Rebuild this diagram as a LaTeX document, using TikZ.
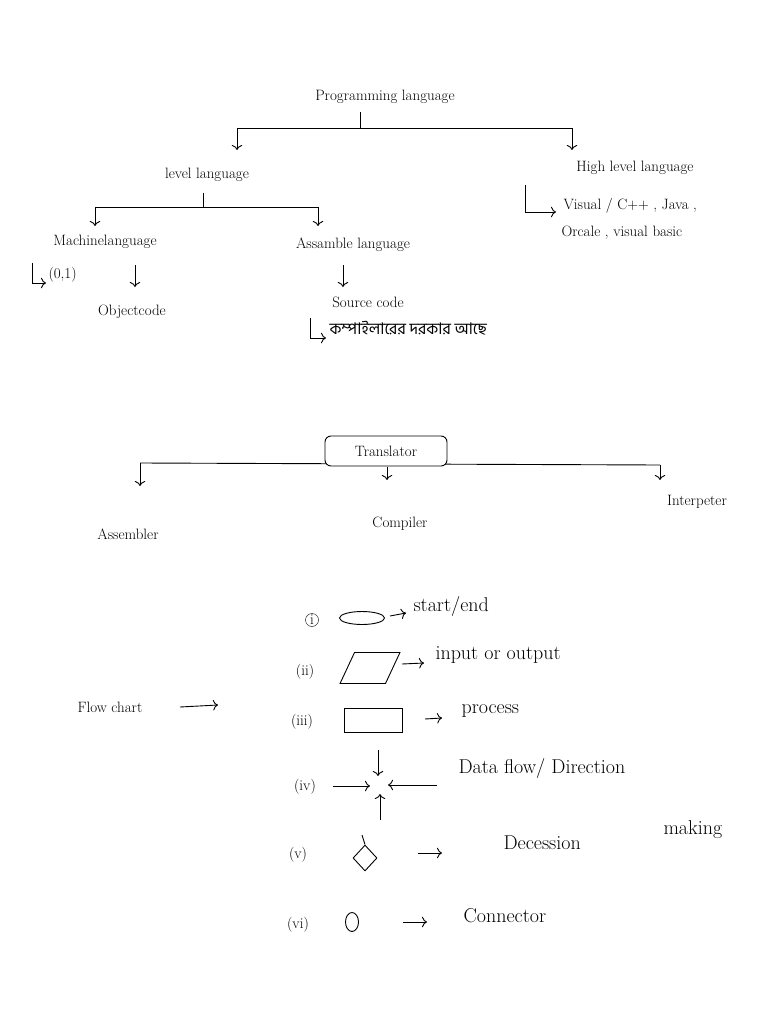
\documentclass[tikz,border=0pt]{standalone}
\usepackage{fontspec}
\newfontfamily\bnfont[Script=Bengali]{Hind Siliguri}
\usetikzlibrary{shapes.geometric,arrows.meta}
\begin{document}
\begin{tikzpicture}[x=1pt,y=-1pt,
  ln/.style={line width=0.9pt},
  ar/.style={line width=0.9pt,-{To[length=5pt]}},
  lbl/.style={font=\fontsize{15}{17}\selectfont},
  big/.style={font=\fontsize{20}{22}\selectfont}]
\useasboundingbox (0,0) rectangle (768,1024);
% tree 1
\node[lbl] (pl) at (385,97) {Programming language};
\coordinate (p1) at (360,112); \coordinate (p2) at (360,128);
\coordinate (pL) at (237,128); \coordinate (pR) at (572,128);
\coordinate (pLd) at (237,150); \coordinate (pRd) at (572,150);
\draw[ln] (p1)--(p2); \draw[ln] (pL)--(pR);
\draw[ar] (pL)--(pLd); \draw[ar] (pR)--(pRd);
\node[lbl] (ll) at (207,175) {level language};
\node[lbl] (hl) at (635,168) {High level language};
\coordinate (h1) at (525,185); \coordinate (h2) at (525,212); \coordinate (h3) at (556,212);
\draw[ar] (h1)--(h2)--(h3);
\node[lbl,anchor=west] (v1) at (560,206) {Visual / C++ , Java ,};
\node[lbl,anchor=west] (v2) at (558,233) {Orcale , visual basic};
\coordinate (l1) at (203,193); \coordinate (l2) at (203,207);
\coordinate (lL) at (95,207); \coordinate (lR) at (318,207);
\coordinate (lLd) at (95,226); \coordinate (lRd) at (318,226);
\draw[ln] (l1)--(l2); \draw[ln] (lL)--(lR);
\draw[ar] (lL)--(lLd); \draw[ar] (lR)--(lRd);
\node[lbl] (ml) at (105,242) {Machinelanguage};
\node[lbl] (al) at (353,245) {Assamble language};
\coordinate (m1) at (32,263); \coordinate (m2) at (32,283); \coordinate (m3) at (46,283);
\draw[ar] (m1)--(m2)--(m3);
\node[lbl,anchor=west] (zo) at (45,275) {(0,1)};
\coordinate (m4) at (135,265); \coordinate (m5) at (135,287);
\draw[ar] (m4)--(m5);
\node[lbl] (oc) at (132,312) {Objectcode};
\coordinate (a4) at (343,265); \coordinate (a5) at (343,287);
\draw[ar] (a4)--(a5);
\node[lbl] (sc) at (368,302) {Source code};
\coordinate (s1) at (310,318); \coordinate (s2) at (310,338); \coordinate (s3) at (326,338);
\draw[ar] (s1)--(s2)--(s3);
\node[font=\bnfont\fontsize{16}{18}\selectfont,anchor=west] (bn) at (326,328) {কম্পাইলারের দরকার আছে};
% translator
\coordinate (tL) at (140,463); \coordinate (tR) at (660,465);
\coordinate (tLd) at (140,486); \coordinate (tRd) at (660,480);
\coordinate (tM) at (387,467); \coordinate (tMd) at (387,480);
\draw[ln] (tL)--(tR);
\node[lbl,draw,fill=white,rounded corners=6pt,line width=0.9pt,minimum width=122pt,minimum height=30pt] (tr) at (386,451) {Translator};
\draw[ar] (tL)--(tLd); \draw[ar] (tR)--(tRd); \draw[ar] (tM)--(tMd);
\node[lbl] (as) at (128,534) {Assembler};
\node[lbl] (co) at (400,524) {Compiler};
\node[lbl] (in) at (697,502) {Interpeter};
% flow chart
\node[lbl] (fc) at (110,707) {Flow chart};
\coordinate (f1) at (180,707); \coordinate (f2) at (218,705);
\draw[ar] (f1)--(f2);
\node[lbl,draw,circle,inner sep=1pt] (r1) at (312,620) {i};
\node[draw,ellipse,line width=0.9pt,minimum width=45pt,minimum height=13pt] (e1) at (362,618) {};
\coordinate (q1) at (390,616); \coordinate (q2) at (406,613);
\draw[ar] (q1)--(q2);
\node[big,anchor=west] (t1) at (410,606) {start/end};
\node[lbl] (r2) at (305,672) {(ii)};
\node[draw,trapezium,trapezium left angle=65,trapezium right angle=115,line width=0.9pt,minimum width=60pt,minimum height=21pt] (e2) at (370,668) {};
\coordinate (q3) at (402,664); \coordinate (q4) at (424,663);
\draw[ar] (q3)--(q4);
\node[big,anchor=west] (t2) at (432,655) {input or output};
\node[lbl] (r3) at (302,722) {(iii)};
\node[draw,rectangle,line width=0.9pt,minimum width=58pt,minimum height=24pt] (e3) at (373,720) {};
\coordinate (q5) at (425,719); \coordinate (q6) at (442,718);
\draw[ar] (q5)--(q6);
\node[big,anchor=west] (t3) at (458,711) {process};
\node[lbl] (r4) at (305,787) {(iv)};
\coordinate (dT) at (378,750); \coordinate (dTe) at (378,776);
\coordinate (dL) at (333,786); \coordinate (dLe) at (370,786);
\coordinate (dR) at (437,785); \coordinate (dRe) at (388,785);
\coordinate (dB) at (380,820); \coordinate (dBe) at (380,794);
\draw[ar] (dT)--(dTe); \draw[ar] (dL)--(dLe); \draw[ar] (dR)--(dRe); \draw[ar] (dB)--(dBe);
\node[big,anchor=west] (t4) at (455,768) {Data flow/ Direction};
\node[lbl] (r5) at (298,855) {(v)};
\node[draw,diamond,line width=0.9pt,minimum width=24pt,minimum height=26pt] (e5) at (365,858) {};
\coordinate (dd) at (362,835); \draw[ln] (dd)--(e5.north);
\coordinate (q7) at (418,853); \coordinate (q8) at (442,853);
\draw[ar] (q7)--(q8);
\node[big,anchor=west] (t5) at (500,843) {Decession};
\node[big,anchor=west] (t5b) at (660,830) {making};
\node[lbl] (r6) at (298,925) {(vi)};
\node[draw,ellipse,line width=0.9pt,minimum width=13pt,minimum height=19pt] (e6) at (352,922) {};
\coordinate (q9) at (403,922); \coordinate (q10) at (427,922);
\draw[ar] (q9)--(q10);
\node[big,anchor=west] (t6) at (460,916) {Connector};
\end{tikzpicture}
\end{document}
